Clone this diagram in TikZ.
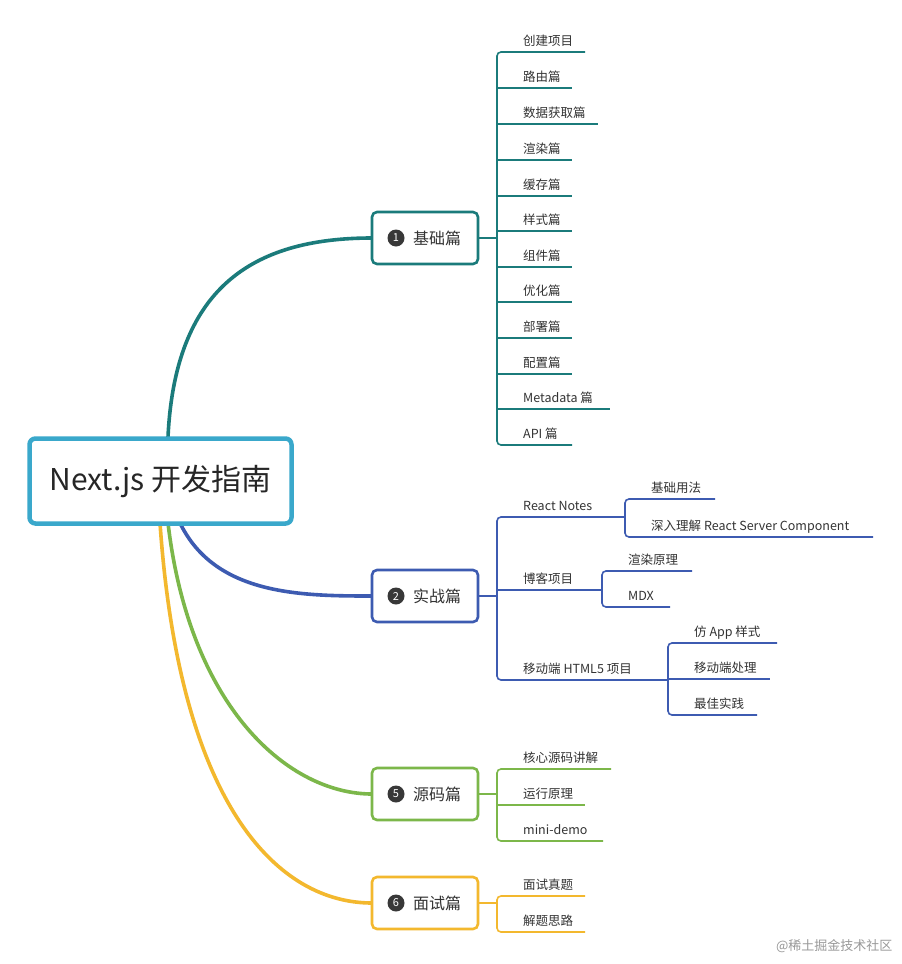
\documentclass[tikz,border=0pt]{standalone}
\usepackage{fontspec}
\setmainfont{Noto Sans CJK SC}
\begin{document}
\begin{tikzpicture}[x=1pt,y=-1pt,
  leaf/.style={font=\fontsize{12.5}{14}\selectfont,text=black!80,inner sep=0pt,anchor=base west},
  br/.style={draw=#1,line width=2.6pt,rounded corners=5pt,fill=white,minimum width=106pt,minimum height=52pt,font=\fontsize{16}{18}\selectfont,text=black!80},
  cv/.style={draw=#1,line width=3.6pt},
  ln/.style={draw=#1,line width=1.6pt,rounded corners=4pt},
  num/.style={circle,fill=black!78,text=white,inner sep=0pt,minimum size=17pt,font=\fontsize{11}{12}\selectfont}]
\definecolor{cT}{HTML}{1B7B7B}\definecolor{cB}{HTML}{3D5BB1}
\definecolor{cG}{HTML}{7CB74A}\definecolor{cY}{HTML}{F3B82E}\definecolor{cR}{HTML}{3AA8CB}
\useasboundingbox (0,0) rectangle (902,964);
\fill[white] (0,0) rectangle (902,964);
% curves
\coordinate (r1) at (168,437);\coordinate (r2) at (180,523);\coordinate (r3) at (168,523);\coordinate (r4) at (160,523);
\path[cv=cT] (r1) .. controls (175,290) and (250,238) .. (372,238);
\path[cv=cB] (r2) .. controls (215,595) and (300,596) .. (372,596);
\path[cv=cG] (r3) .. controls (190,710) and (290,794) .. (372,794);
\path[cv=cY] (r4) .. controls (180,810) and (280,903) .. (372,903);
\node[draw=cR,line width=4.5pt,rounded corners=6pt,fill=white,minimum width=262pt,minimum height=85pt,font=\fontsize{30}{34}\selectfont,text=black!85] (root) at (160.5,481) {Next.js 开发指南};
% branch boxes
\node[br=cT] (b1) at (425,238) {\hspace*{24pt}基础篇};
\node[br=cB] (b2) at (425,596) {\hspace*{24pt}实战篇};
\node[br=cG] (b3) at (425,794) {\hspace*{24pt}源码篇};
\node[br=cY] (b4) at (425,903) {\hspace*{24pt}面试篇};
\foreach \b/\n in {b1/1,b2/2,b3/5,b4/6}{\node[num] at ([xshift=-29pt]\b.center) {\n};}
% basics
\path[ln=cT] (b1.east) -- (497,238);
\path[ln=cT] (585,52) -- (497,52) -- (497,445) -- (572,445);
\foreach \y/\e in {88/572,124/598,160/572,196/572,231/572,267/572,302/572,338/572,374/572,409/610}{\path[ln=cT] (497,\y) -- (\e,\y);}
\foreach \y/\t [count=\i] in {52/创建项目,88/路由篇,124/数据获取篇,160/渲染篇,196/缓存篇,231/样式篇,267/组件篇,302/优化篇,338/部署篇,374/配置篇,409/Metadata 篇,445/API 篇}{\node[leaf] (l1\i) at (523,\y-7) {\t};}
% practice
\path[ln=cB] (b2.east) -- (497,596);
\path[ln=cB] (625,517) -- (497,517) -- (497,680) -- (668,680);
\path[ln=cB] (497,590) -- (602,590);
\path[ln=cB] (715,499) -- (625,499) -- (625,537) -- (873,537);
\path[ln=cB] (692,571) -- (602,571) -- (602,607) -- (670,607);
\path[ln=cB] (777,643) -- (668,643) -- (668,715) -- (757,715);
\path[ln=cB] (668,679) -- (770,679);
\node[leaf] (p1) at (523,510) {React Notes};
\node[leaf] (p2) at (523,583) {博客项目};
\node[leaf] (p3) at (523,673) {移动端 HTML5 项目};
\node[leaf] (p11) at (651,492) {基础用法};
\node[leaf] (p12) at (651,530) {深入理解 React Server Component};
\node[leaf] (p21) at (628,564) {渲染原理};
\node[leaf] (p22) at (628,600) {MDX};
\node[leaf] (p31) at (694,636) {仿 App 样式};
\node[leaf] (p32) at (694,672) {移动端处理};
\node[leaf] (p33) at (694,708) {最佳实践};
% source
\path[ln=cG] (b3.east) -- (497,794);
\path[ln=cG] (611,769) -- (497,769) -- (497,841) -- (603,841);
\path[ln=cG] (497,805) -- (585,805);
\node[leaf] (s1) at (523,762) {核心源码讲解};
\node[leaf] (s2) at (523,798) {运行原理};
\node[leaf] (s3) at (523,834) {mini-demo};
% interview
\path[ln=cY] (b4.east) -- (497,903);
\path[ln=cY] (585,896) -- (497,896) -- (497,932) -- (585,932);
\node[leaf] (i1) at (523,889) {面试真题};
\node[leaf] (i2) at (523,925) {解题思路};
\node[anchor=east,text=black!40,font=\fontsize{13}{14}\selectfont] (wm) at (896,946) {@稀土掘金技术社区};
\end{tikzpicture}
\end{document}
